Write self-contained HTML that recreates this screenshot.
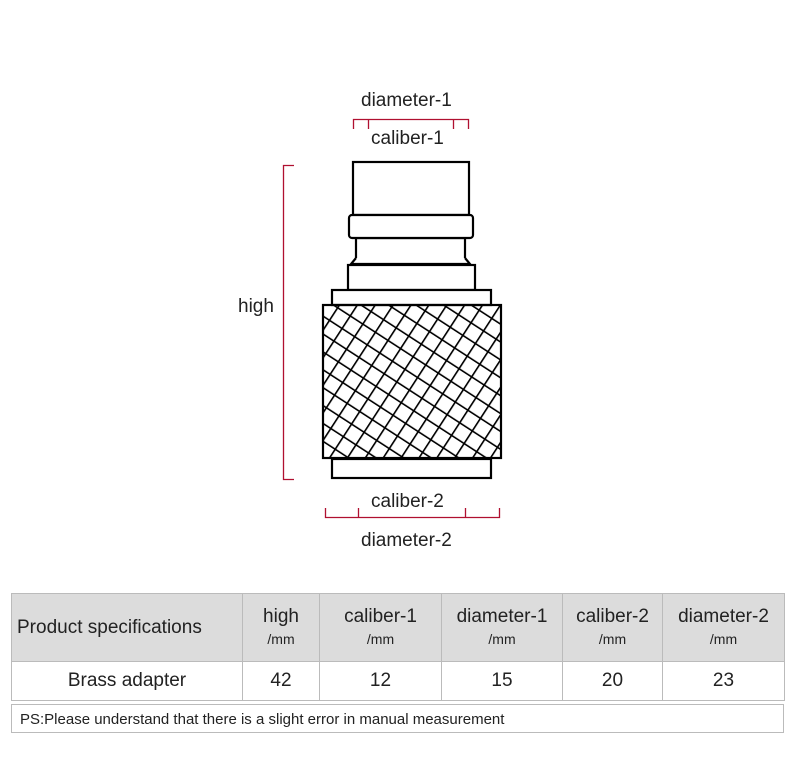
<!DOCTYPE html>
<html><head><meta charset="utf-8"><style>
body{margin:0;background:#fff;width:790px;height:761px;overflow:hidden;font-family:"Liberation Sans",sans-serif;}
.t{position:absolute;font-size:19px;color:#222;}
table{position:absolute;left:11px;top:593px;border-collapse:collapse;font-size:19px;color:#222;}
td{border:1.5px solid #bbb;text-align:center;padding:0;}
.h td{background:#dcdcdc;height:67px;}
.s{font-size:14px;}
.ps{position:absolute;left:11px;top:704px;height:29px;border:1.5px solid #bbb;font-size:15px;color:#222;line-height:29px;padding-left:8px;box-sizing:border-box;width:773px}
</style></head><body>
<svg width="790" height="590" style="position:absolute;left:0;top:0">
<defs>
<pattern id="k" width="15" height="15" patternUnits="userSpaceOnUse" patternTransform="rotate(-57)">
<path d="M0 0H15M0 0V15" stroke="#000" stroke-width="3.2" fill="none"/>
</pattern>
</defs>
<g stroke="#b01030" stroke-width="1.3" fill="none">
<path d="M353.5 129V119.5H468.5V129M368.5 119.5V129M453.5 119.5V129"/>
<path d="M294 165.5H283.5V479.5H294"/>
<path d="M325.5 508V517.5H499.5V508M358.5 517.5V508M465.5 517.5V508"/>
</g>
<g stroke="#000" stroke-width="2.2" fill="#fff">
<rect x="353" y="162" width="116" height="53"/>
<rect x="356" y="238" width="109" height="28"/>
<rect x="349" y="215" width="124" height="23" rx="3"/>
<path d="M356 258 L351 264 H470 L465 258" />
<rect x="348" y="265" width="127" height="25"/>
<rect x="332" y="290" width="159" height="15"/>
<rect x="332" y="459" width="159" height="19"/>
<rect x="323" y="305" width="178" height="153" fill="url(#k)"/>
</g>
</svg>
<div class="t" style="left:361px;top:90px">diameter-1</div>
<div class="t" style="left:371px;top:128px">caliber-1</div>
<div class="t" style="left:238px;top:296px">high</div>
<div class="t" style="left:371px;top:491px">caliber-2</div>
<div class="t" style="left:361px;top:530px">diameter-2</div>
<table>
<tr class="h"><td style="width:225px;text-align:left;padding-left:5px">Product specifications</td><td style="width:76px">high<br><span class="s">/mm</span></td><td style="width:121px">caliber-1<br><span class="s">/mm</span></td><td style="width:120px">diameter-1<br><span class="s">/mm</span></td><td style="width:99px">caliber-2<br><span class="s">/mm</span></td><td style="width:121px">diameter-2<br><span class="s">/mm</span></td></tr>
<tr><td style="height:38px;padding-left:0">Brass adapter</td><td>42</td><td>12</td><td>15</td><td>20</td><td>23</td></tr>
</table>
<div class="ps">PS:Please understand that there is a slight error in manual measurement</div>
</body></html>
